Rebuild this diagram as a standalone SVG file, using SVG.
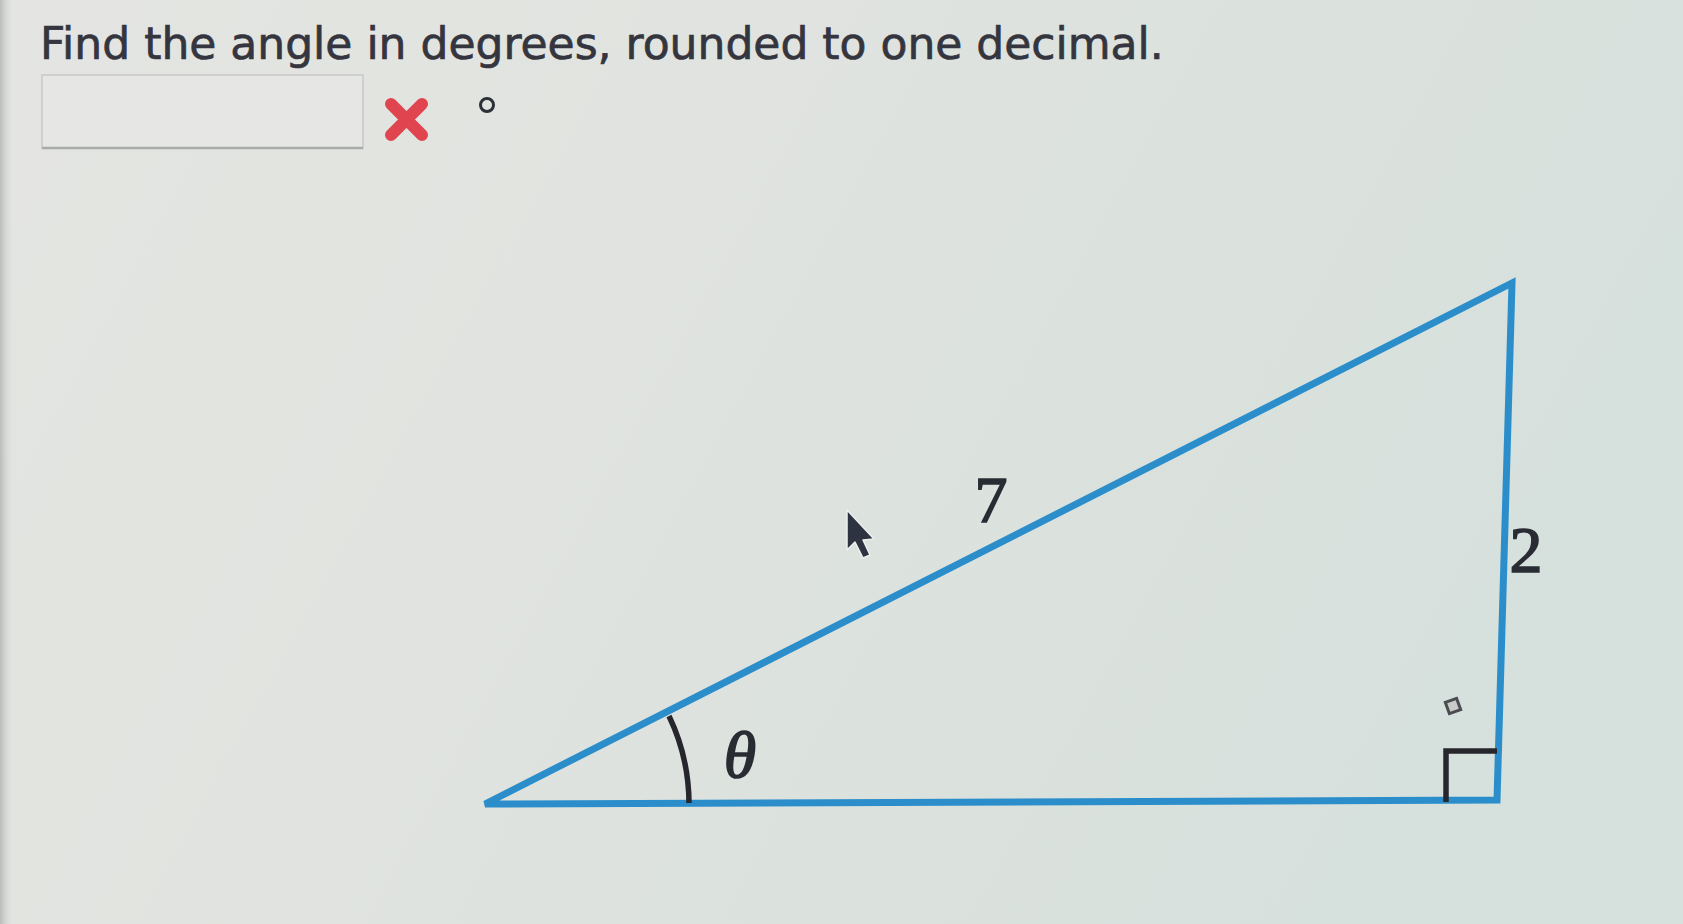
<svg xmlns="http://www.w3.org/2000/svg" width="1683" height="924" viewBox="0 0 1683 924">
  <defs>
    <linearGradient id="bg" x1="0" y1="0" x2="1" y2="0.3">
      <stop offset="0" stop-color="#e4e5e2"/>
      <stop offset="0.45" stop-color="#e0e3df"/>
      <stop offset="1" stop-color="#d6e0dc"/>
    </linearGradient>
    <linearGradient id="edge" x1="0" y1="0" x2="1" y2="0">
      <stop offset="0" stop-color="#b9bcb9"/>
      <stop offset="1" stop-color="#e2e3e0" stop-opacity="0"/>
    </linearGradient>
    <style>
      .title { font-family: "DejaVu Sans", Verdana, sans-serif; font-size: 44px; fill: #34353e; stroke: #34353e; stroke-width: 0.7px; }
      .lbl { font-family: "Liberation Serif", "Times New Roman", serif; font-size: 66px; fill: #2a2c34; stroke: #2a2c34; stroke-width: 1.6px; }
      .tri { fill: none; stroke: #2b8ecb; stroke-width: 7; stroke-linejoin: miter; }
      .blk { fill: none; stroke: #26262c; stroke-width: 5.5; }
    </style>
  </defs>
  <rect x="0" y="0" width="1683" height="924" fill="url(#bg)"/>
  <rect x="0" y="0" width="14" height="924" fill="url(#edge)"/>

  <g id="question">
    <text class="title" x="40" y="59">Find the angle in degrees, rounded to one decimal.</text>
  </g>

  <g id="answer-box">
    <rect x="42" y="75" width="321" height="73" fill="#e6e7e4" stroke="#cfd0cd" stroke-width="2"/>
    <line x1="42" y1="148" x2="363" y2="148" stroke="#a9abaa" stroke-width="2.5"/>
  </g>

  <g id="wrong-mark">
    <path d="M391 104 L422 135 M422 104 L391 135" stroke="#e0454f" stroke-width="12" stroke-linecap="round"/>
  </g>

  <g id="degree">
    <circle cx="487" cy="105" r="6.5" fill="none" stroke="#2e3038" stroke-width="3"/>
  </g>

  <g id="connectors">
    <path class="tri" d="M485 804 L1497 800 L1512 283 Z"/>
  </g>

  <g id="angle-arc">
    <path class="blk" d="M669 716 A204 204 0 0 1 689 803"/>
  </g>

  <g id="right-angle">
    <path class="blk" d="M1446 802 L1446 751 L1497 751"/>
  </g>

  <g id="label-theta">
    <text class="lbl" x="740" y="777" text-anchor="middle" font-style="italic" font-size="62" stroke-width="1.2">θ</text>
  </g>
  <g id="label-7">
    <text class="lbl" x="991" y="522" text-anchor="middle">7</text>
  </g>
  <g id="label-2">
    <text class="lbl" x="1526" y="572" text-anchor="middle">2</text>
  </g>

  <g id="icon">
    <rect x="1447" y="700" width="12" height="12" fill="#c9cac8" stroke="#4a4c52" stroke-width="3" transform="rotate(-20 1453 706)"/>
  </g>

  <g id="cursor">
    <path d="M847 510 L847 550 L855 542 L863 558 L870 555 L863 540 L874 539 Z" fill="#2d3340" stroke="#eef0ee" stroke-width="1.5" stroke-linejoin="round"/>
  </g>
</svg>
